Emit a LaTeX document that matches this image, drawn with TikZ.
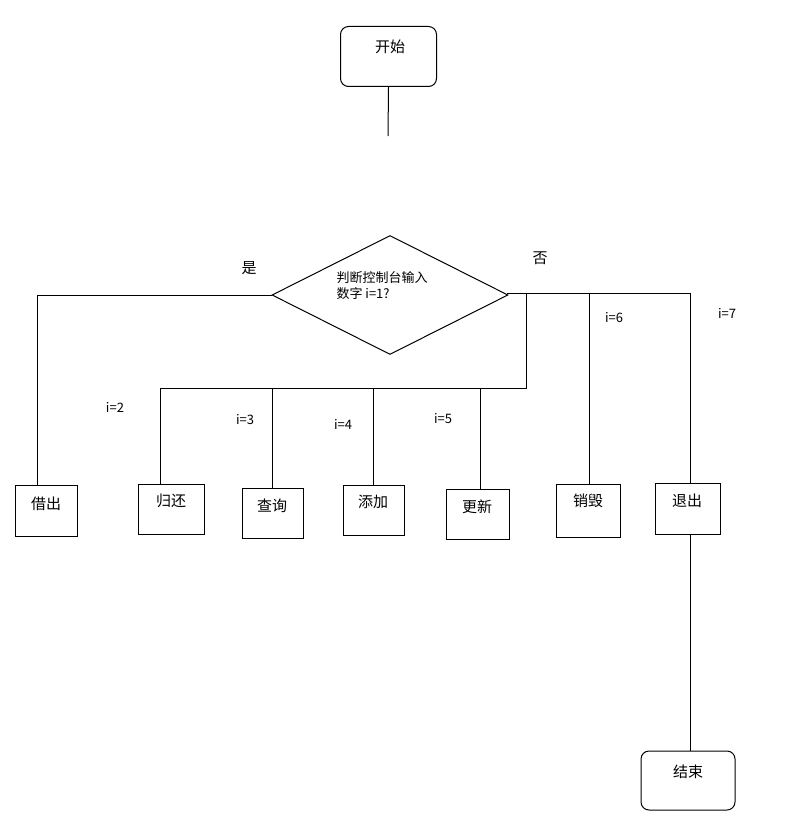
\documentclass[tikz,border=0pt]{standalone}
\usepackage{fontspec}
\setmainfont{Noto Sans CJK SC}
\usetikzlibrary{shapes.geometric}
\begin{document}
\begin{tikzpicture}[x=1pt,y=-1pt,
  box/.style={draw,line width=1pt,minimum width=62pt,minimum height=51pt,inner sep=0pt},
  rbox/.style={draw,line width=1pt,rounded corners=8pt,minimum width=96pt,minimum height=60pt,inner sep=0pt},
  txt/.style={font=\fontsize{15}{17}\selectfont},
  lbl/.style={font=\fontsize{13}{16}\selectfont},
  line/.style={draw,line width=1pt}]
\useasboundingbox (0,0) rectangle (792,837);
\node[rbox] (start) at (388.5,56.5) {};
\node[txt] at (390,47) {开始};
\coordinate (s2) at (388,136);
\node[draw,line width=1pt,diamond,minimum width=236pt,minimum height=119pt,inner sep=0pt,aspect=2] (d) at (390,295) {};
\node[lbl,align=left,anchor=north west] at (333,268) {判断控制台输入\\数字 i=1?};
\node[txt] at (249,268) {是};
\node[txt] at (540,258) {否};
\node[box] (b1) at (46,511) {}; \node[txt] at (46,504) {借出};
\node[box,minimum width=66pt,minimum height=50pt] (b2) at (171,509) {}; \node[txt] at (171,501) {归还};
\node[box,minimum width=61pt,minimum height=50pt] (b3) at (272.5,513) {}; \node[txt] at (272,506) {查询};
\node[box,minimum width=61pt,minimum height=50pt] (b4) at (373.5,510) {}; \node[txt] at (373,502) {添加};
\node[box,minimum width=63pt,minimum height=50pt] (b5) at (477.5,514) {}; \node[txt] at (477,507) {更新};
\node[box,minimum width=64pt,minimum height=53pt] (b6) at (588,510.5) {}; \node[txt] at (588,501) {销毁};
\node[box,minimum width=65pt,minimum height=51pt] (b7) at (687.5,508.5) {}; \node[txt] at (687,501) {退出};
\node[rbox,minimum width=94pt,minimum height=59pt] (end) at (688,780.5) {}; \node[txt] at (688,772) {结束};
\node[lbl] at (115,407) {i=2};
\node[lbl] at (245,420) {i=3};
\node[lbl] at (343,424) {i=4};
\node[lbl] at (443,419) {i=5};
\node[lbl] at (614,318) {i=6};
\node[lbl] at (727,313) {i=7};
\coordinate (j) at (526,293);
\coordinate (h) at (526,388);
\draw[line] (start.south) -- (s2);
\draw[line] (d.west) -- (37,295) -- (b1.north -| 37,0);
\draw[line] (507,293) -- (690,293) -- (690,483);
\draw[line] (j) -- (h) -- (160,388) -- (160,484);
\draw[line] (272,388) -- (272,488);
\draw[line] (373,388) -- (373,485);
\draw[line] (480,388) -- (480,489);
\draw[line] (589,293) -- (589,484);
\draw[line] (b7.south -| 690,0) -- (end.north -| 690,0);
\end{tikzpicture}
\end{document}
